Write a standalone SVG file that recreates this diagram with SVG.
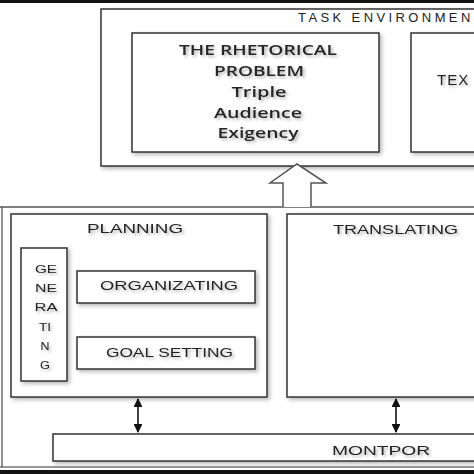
<svg xmlns="http://www.w3.org/2000/svg" width="474" height="474" viewBox="0 0 474 474">
<defs>
<filter id="sh" x="-10%" y="-10%" width="130%" height="130%">
<feGaussianBlur in="SourceAlpha" stdDeviation="2"/>
<feOffset dx="2" dy="2" result="b"/>
<feComponentTransfer><feFuncA type="linear" slope="0.3"/></feComponentTransfer>
<feMerge><feMergeNode/><feMergeNode in="SourceGraphic"/></feMerge>
</filter>
<filter id="tsh" x="-10%" y="-30%" width="130%" height="180%">
<feGaussianBlur in="SourceAlpha" stdDeviation="1.5"/>
<feOffset dx="1.5" dy="2" result="b"/>
<feComponentTransfer><feFuncA type="linear" slope="0.3"/></feComponentTransfer>
<feMerge><feMergeNode/><feMergeNode in="SourceGraphic"/></feMerge>
</filter>
<marker id="ah" viewBox="0 0 10 10" refX="9" refY="5" markerWidth="5.5" markerHeight="5.5" orient="auto-start-reverse">
<path d="M0,0 L10,5 L0,10 z" fill="#111"/>
</marker>
</defs>
<style>
.box{fill:#fff;stroke:#333;stroke-width:1.5}
.t{font-family:"Liberation Sans",Arial,sans-serif;fill:#222}
.b{font-family:"Open Sans","Liberation Sans",Arial,sans-serif;font-weight:600;fill:#262626}
.c{text-anchor:middle}
.con{stroke:#111;stroke-width:1.6;fill:none}
</style>
<rect x="0" y="0" width="474" height="474" fill="#fff"/>
<rect x="0" y="0" width="474" height="3" fill="#111"/>

<g id="task-environment">
<rect class="box" x="101" y="9" width="390" height="157" filter="url(#sh)"/>
<text class="t" x="298" y="22" font-size="13" letter-spacing="3.4">TASK ENVIRONMEN</text>
</g>
<g id="rhetorical-problem">
<rect class="box" x="132" y="33" width="247" height="119" filter="url(#sh)"/>
<g filter="url(#tsh)">
<text class="t b c" x="258" y="55" font-size="14" textLength="158" lengthAdjust="spacingAndGlyphs">THE RHETORICAL</text>
<text class="t b c" x="259" y="76" font-size="14" textLength="90" lengthAdjust="spacingAndGlyphs">PROBLEM</text>
<text class="t b c" x="259" y="97" font-size="14" textLength="55" lengthAdjust="spacingAndGlyphs">Triple</text>
<text class="t b c" x="258" y="118" font-size="14" textLength="88" lengthAdjust="spacingAndGlyphs">Audience</text>
<text class="t b c" x="258" y="138" font-size="14" textLength="81" lengthAdjust="spacingAndGlyphs">Exigency</text>
</g>
</g>
<g id="text-produced">
<rect class="box" x="411" y="33" width="80" height="119" filter="url(#sh)"/>
<text class="t" x="437" y="85" font-size="15" letter-spacing="1" filter="url(#tsh)">TEX</text>
</g>

<g id="writer">
<path d="M0,207 H474 M2,207 V467" stroke="#555" stroke-width="1.3" fill="none"/>
<path d="M0,467 H474" stroke="#333" stroke-width="1.2"/>
</g>

<g id="planning">
<rect class="box" x="11" y="214" width="256" height="183" filter="url(#sh)"/>
<text class="t" x="87" y="233" font-size="12.5" textLength="96" lengthAdjust="spacingAndGlyphs" filter="url(#tsh)">PLANNING</text>
</g>
<g id="generating">
<rect class="box" x="21" y="248" width="46" height="133" filter="url(#sh)"/>
<g filter="url(#tsh)" font-size="11.5">
<text class="t c" x="46" y="273" textLength="22" lengthAdjust="spacingAndGlyphs">GE</text>
<text class="t c" x="46" y="292" textLength="22" lengthAdjust="spacingAndGlyphs">NE</text>
<text class="t c" x="46" y="311" textLength="23" lengthAdjust="spacingAndGlyphs">RA</text>
<text class="t c" x="45" y="331" textLength="12" lengthAdjust="spacingAndGlyphs">TI</text>
<text class="t c" x="45" y="350" textLength="9" lengthAdjust="spacingAndGlyphs">N</text>
<text class="t c" x="45" y="369" textLength="10" lengthAdjust="spacingAndGlyphs">G</text>
</g>
</g>
<g id="organizating">
<rect class="box" x="77" y="271" width="178" height="32" filter="url(#sh)"/>
<text class="t" x="100" y="290" font-size="13" textLength="138" lengthAdjust="spacingAndGlyphs" filter="url(#tsh)">ORGANIZATING</text>
</g>
<g id="goal-setting">
<rect class="box" x="77" y="337" width="178" height="32" filter="url(#sh)"/>
<text class="t" x="106" y="357" font-size="12.5" textLength="127" lengthAdjust="spacingAndGlyphs" filter="url(#tsh)">GOAL SETTING</text>
</g>
<g id="translating">
<rect class="box" x="287" y="214" width="210" height="183" filter="url(#sh)"/>
<text class="t" x="333" y="234" font-size="12.5" textLength="125" lengthAdjust="spacingAndGlyphs" filter="url(#tsh)">TRANSLATING</text>
</g>
<g id="monitor">
<rect class="box" x="53" y="434" width="440" height="27" filter="url(#sh)"/>
<text class="t" x="332" y="455" font-size="12" textLength="98" lengthAdjust="spacingAndGlyphs" filter="url(#tsh)">MONTPOR</text>
</g>

<g id="connectors">
<path d="M283,207 V183 H270 L297,164 L326,183 H311 V207" fill="#fff" stroke="#555" stroke-width="1.5" stroke-linejoin="miter"/>
<line class="con" x1="138" y1="399" x2="138" y2="432" marker-start="url(#ah)" marker-end="url(#ah)"/>
<line class="con" x1="396" y1="399" x2="396" y2="432" marker-start="url(#ah)" marker-end="url(#ah)"/>
</g>

<rect x="0" y="470" width="474" height="4" fill="#111"/>
</svg>
